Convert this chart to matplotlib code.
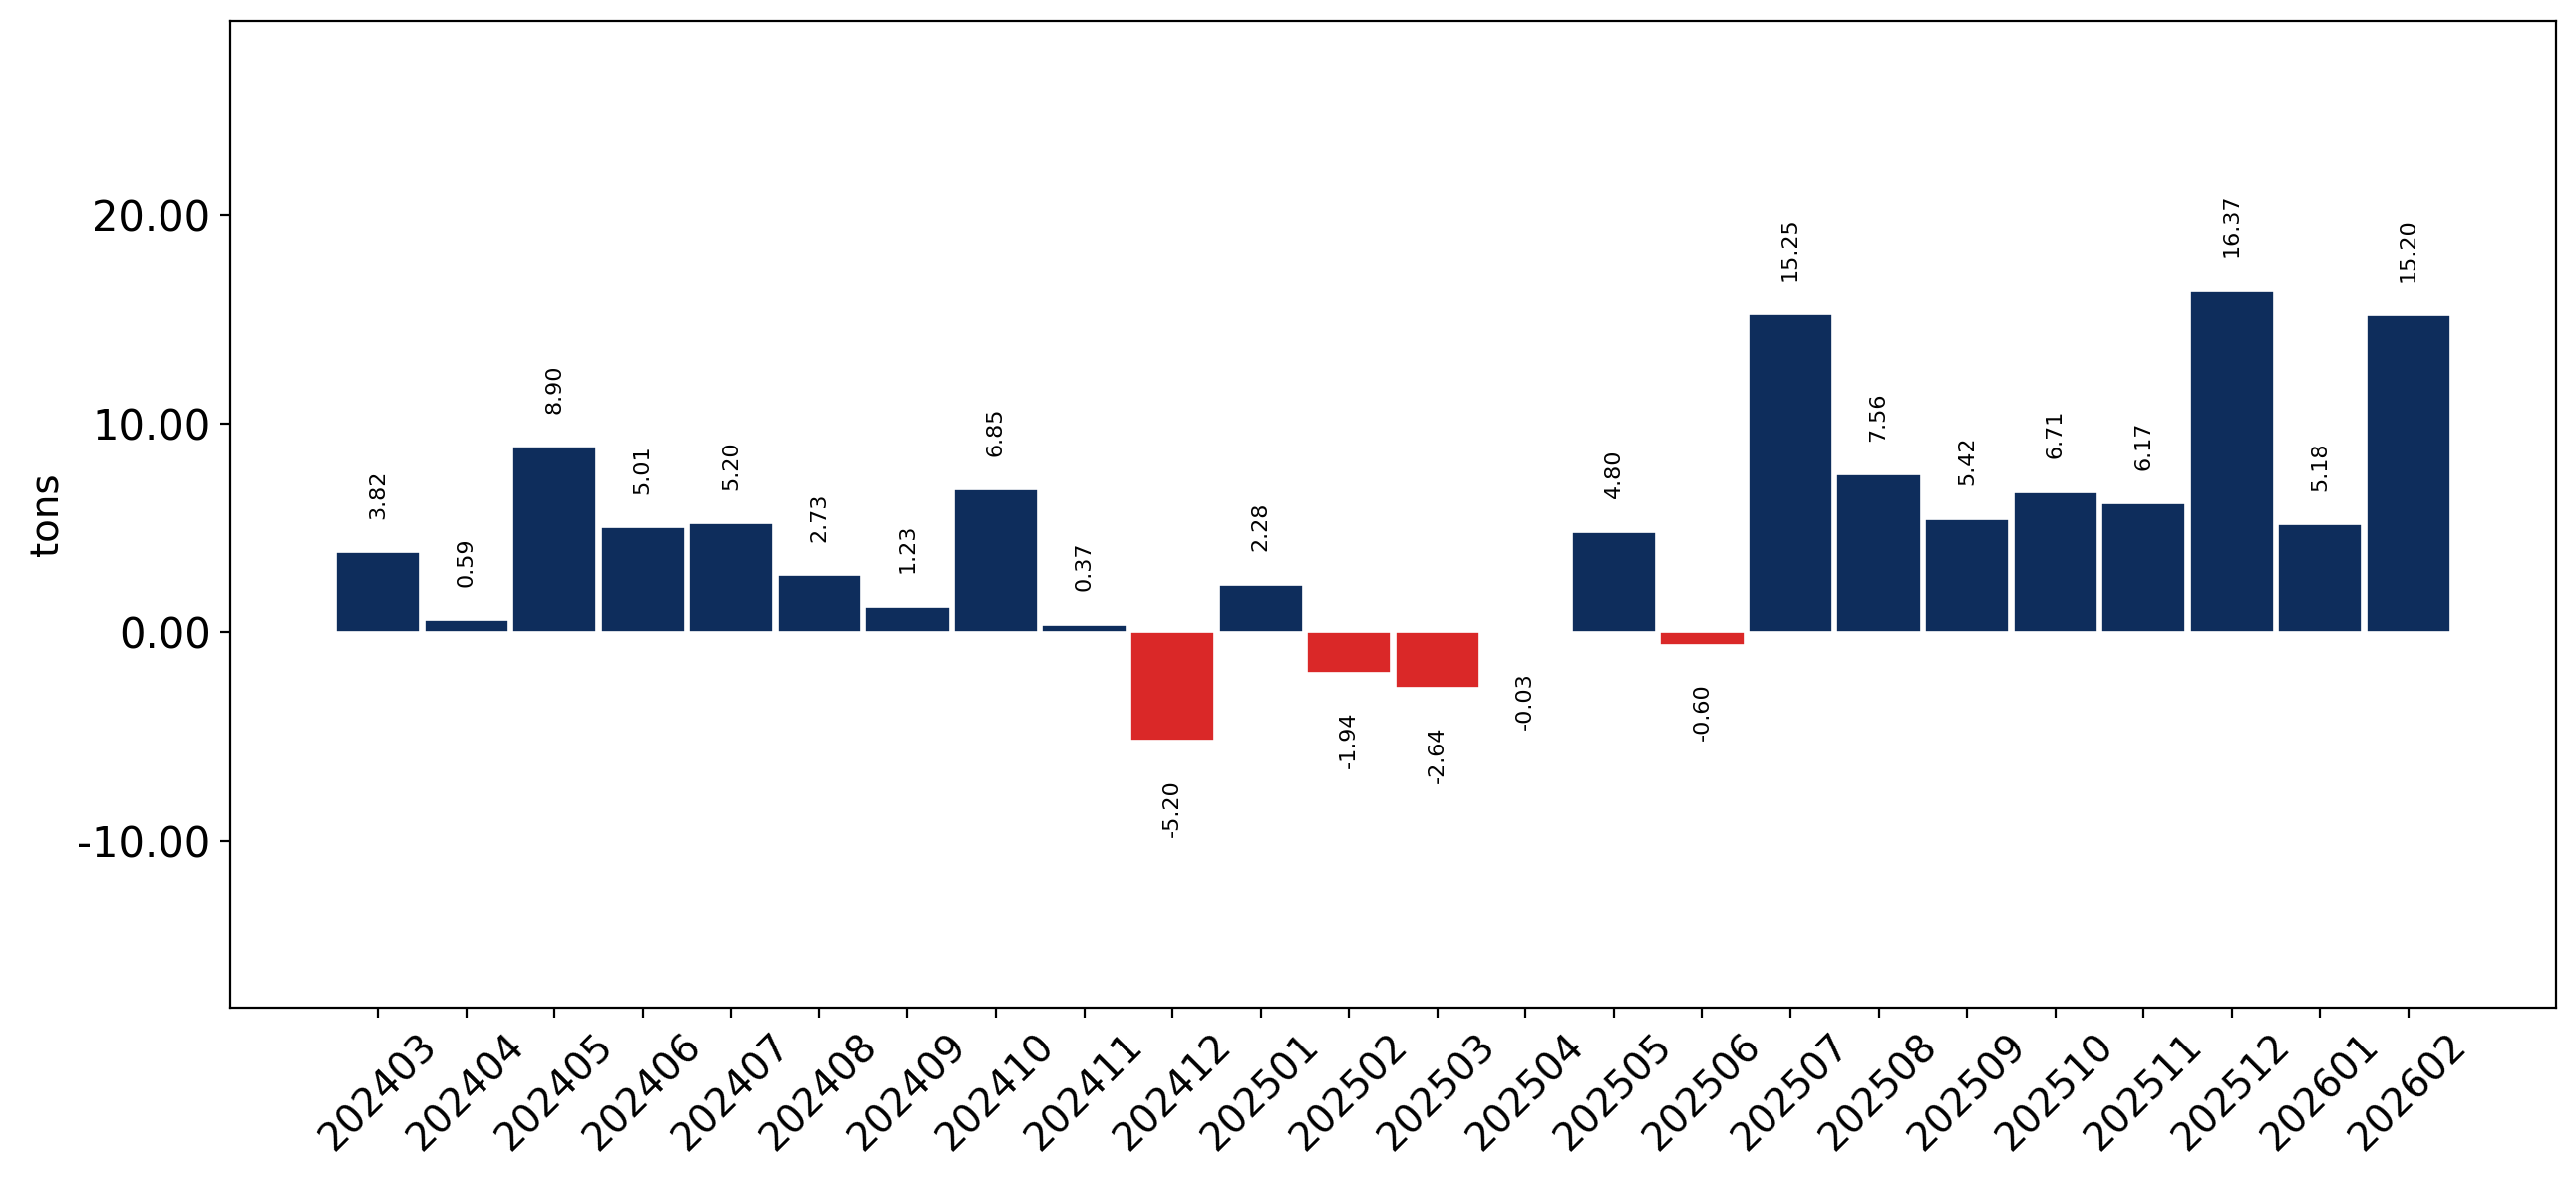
import matplotlib
matplotlib.use("Agg")
import matplotlib.pyplot as plt

months = ["202403", "202404", "202405", "202406", "202407", "202408", "202409",
          "202410", "202411", "202412", "202501", "202502", "202503", "202504",
          "202505", "202506", "202507", "202508", "202509", "202510", "202511",
          "202512", "202601", "202602"]
values = [3.82, 0.59, 8.90, 5.01, 5.20, 2.73, 1.23, 6.85, 0.37, -5.20, 2.28,
          -1.94, -2.64, -0.03, 4.80, -0.60, 15.25, 7.56, 5.42, 6.71, 6.17,
          16.37, 5.18, 15.20]
yticks = [-10, 0, 10, 20]

POS = "#0e2d5c"
NEG = "#da2828"

fig = plt.figure(figsize=(12.92, 5.995), dpi=200)
ax = fig.add_axes([231 / 2584, 1 - 1011 / 1199, (2564 - 231) / 2584, (1011 - 21) / 1199])

x = list(range(len(months)))
colors = [POS if v >= 0 else NEG for v in values]
ax.bar(x, values, width=0.95, color=colors, edgecolor="white", linewidth=0.6)

for xi, v in zip(x, values):
    if v >= 0:
        ax.annotate(f"{v:.2f}", (xi, v), xytext=(0, 12), textcoords="offset points",
                    rotation=90, ha="center", va="bottom", fontsize=8)
    else:
        ax.annotate(f"{v:.2f}", (xi, v), xytext=(0, -14), textcoords="offset points",
                    rotation=90, ha="center", va="top", fontsize=8)

ax.set_ylim(-18.0, 29.3)
ax.set_xticks(x)
ax.set_xticklabels(months, rotation=45, fontsize=14)
ax.set_yticks(yticks)
ax.set_yticklabels([f"{t:.2f}" for t in yticks], fontsize=15)
ax.set_ylabel("tons", fontsize=14)

fig.savefig("out.png", dpi=200)
